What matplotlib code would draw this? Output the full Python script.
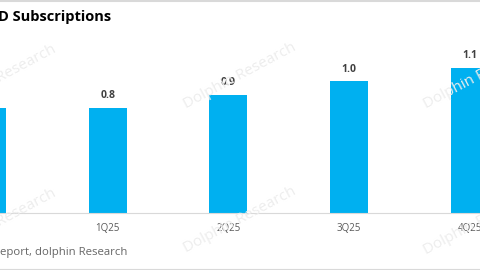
import matplotlib
matplotlib.use('Agg')
from matplotlib import pyplot as plt
from matplotlib.lines import Line2D

# data (first bar is mostly cut off on the left)
quarters = ['4Q24', '1Q25', '2Q25', '3Q25', '4Q25']
subs = [0.8, 0.8, 0.9, 1.0, 1.1]
labels = ['0.8', '0.8', '0.9', '1.0', '1.1']

plt.rcParams['font.family'] = ['Open Sans', 'DejaVu Sans']

W, H = 480, 270
fig = plt.figure(figsize=(4.8, 2.7), dpi=100)
fig.patch.set_facecolor('white')


def px(x, y):
    """pixel position (from top-left) to figure fraction"""
    return x / W, 1 - y / H


# faint "Dolphin Research" watermarks
for cx, cy in [(240, 76), (480, 76), (0, 78), (240, 220), (480, 222), (0, 222)]:
    fx, fy = px(cx, cy)
    fig.text(fx, fy, 'Dolphin Research', fontsize=11, color='#ededed',
             rotation=28, ha='center', va='center', rotation_mode='anchor', zorder=0)

# axes reach past both sides of the figure so the outer bars are cut
step = 120.7
left_px = -13 - 0.5 * step
ax = fig.add_axes([left_px / W, 57 / H, 5 * step / W, 171 / H])
ax.patch.set_alpha(0)

x = range(len(quarters))
bars = ax.bar(x, subs, width=0.315, color='#00B0F0', zorder=2)
for b, lab in zip(bars, labels):
    ax.annotate(lab, (b.get_x() + b.get_width() / 2, b.get_height()),
                xytext=(0, 5), textcoords='offset points', ha='center', va='bottom',
                fontsize=7.5, fontweight='bold', color='#404040')

ax.set_xlim(-0.5, 4.5)
ax.set_ylim(0, 1.3)
ax.set_xticks(list(x))
ax.set_xticklabels(quarters, fontsize=7, color='#595959')
ax.tick_params(axis='x', length=0, pad=7)
ax.set_yticks([])
for s in ['top', 'left', 'right']:
    ax.spines[s].set_visible(False)
ax.spines['bottom'].set_color('#d9d9d9')
ax.spines['bottom'].set_linewidth(0.8)

# title and source, both cut at the left edge
fx, fy = px(-2, 17)
fig.text(fx, fy, 'D Subscriptions', fontsize=10.5, fontweight='bold',
         color='#000000', ha='left', va='center')
fx, fy = px(0, 253)
fig.text(fx, fy, 'eport, dolphin Research', fontsize=8.2, color='#666666',
         ha='left', va='center')

# thin frame lines at top and bottom
fig.add_artist(Line2D([0, 1], [1 - 1 / H, 1 - 1 / H], color='#d9d9d9', lw=1.5))
fig.add_artist(Line2D([0, 1], [1.5 / H, 1.5 / H], color='#d9d9d9', lw=0.8))

fig.savefig('out.png', dpi=100)
